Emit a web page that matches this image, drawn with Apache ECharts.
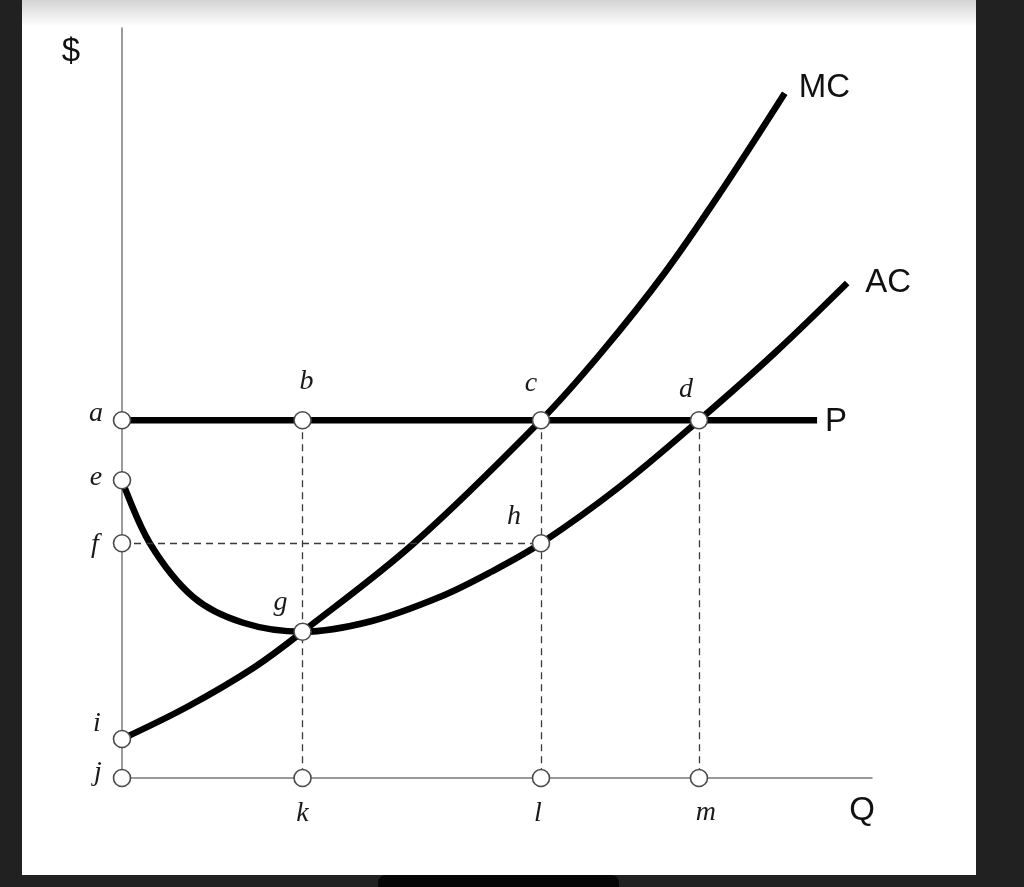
<!DOCTYPE html>
<html>
<head>
<meta charset="utf-8">
<title>MC AC P</title>
<script src="https://cdn.jsdelivr.net/npm/echarts@6/dist/echarts.min.js"></script>
<style>
  html, body { margin: 0; padding: 0; background: #212121; }
  #chart { width: 1024px; height: 887px; }
</style>
</head>
<body>
<div id="chart"></div>
<script>
// values, axes run 0..100 on both sides
const priceLevel = 47.7;      // a, the P line
const pEnd = 92.4;
const mcCurve = [[0, 5.2], [8.7, 9.5], [17.5, 14.7], [24, 19.5], [38.8, 31.3], [55.7, 47.7], [63.7, 56.7], [72.1, 67.3], [79.7, 78.3], [88.1, 91.3]];
const acCurve = [[0, 39.7], [3.7, 31.3], [9.5, 24.1], [16.1, 20.7], [24, 19.5], [33.1, 20.9], [42.4, 24.2], [49.1, 27.5], [55.7, 31.3], [66.1, 38.8], [76.7, 47.7], [86.8, 56.7], [96.4, 66]];
const pointNames = ['a', 'e', 'f', 'i', 'j', 'b', 'c', 'd', 'g', 'h', 'k', 'l', 'm'];
const pointX = [0, 0, 0, 0, 0, 24, 55.7, 76.7, 24, 55.7, 24, 55.7, 76.7];
const pointY = [47.7, 39.7, 31.3, 5.2, 0, 47.7, 47.7, 47.7, 19.5, 31.3, 0, 0, 0];
// dashed guides: [from, to] by point name
const guides = [['b', 'k'], ['c', 'l'], ['d', 'm'], ['f', 'h']];

// where each letter sits relative to its circle (px)
const labelOffset = {
  a: [-26, -7], e: [-26, -3], f: [-27, 1], i: [-25, -15], j: [-24, -5],
  b: [4, -39], c: [-10, -37], d: [-13, -31], g: [-22, -29], h: [-27, -27],
  k: [0, 36], l: [-3, 36], m: [7, 35]
};

const chart = echarts.init(document.getElementById('chart'));

const pt = name => {
  const i = pointNames.indexOf(name);
  return [pointX[i], pointY[i]];
};

const curveStyle = { color: '#000', width: 6.5 };
const sans = '"Liberation Sans", Arial, sans-serif';

const option = {
  animation: false,
  backgroundColor: '#212121',
  graphic: [
    {
      type: 'rect', z: -10, silent: true,
      shape: { x: 22, y: 0, width: 954, height: 875 },
      style: {
        fill: new echarts.graphic.LinearGradient(0, 0, 0, 1, [
          { offset: 0, color: '#d3d3d3' },
          { offset: 0.03, color: '#ffffff' },
          { offset: 1, color: '#ffffff' }
        ])
      }
    },
    {
      type: 'rect', z: -10, silent: true,
      shape: { x: 378, y: 875, width: 241, height: 14, r: [8, 8, 0, 0] },
      style: { fill: '#060606' }
    }
  ],
  grid: { left: 122, top: 28, width: 750, height: 750 },
  xAxis: {
    type: 'value', min: 0, max: 99.7,
    name: 'Q', nameLocation: 'end', nameGap: -10,
    nameTextStyle: { fontFamily: sans, fontSize: 33, color: '#111', align: 'center', verticalAlign: 'top', padding: [16, 0, 0, 0] },
    axisLine: { lineStyle: { color: '#7a7a7a', width: 1.5 } },
    axisTick: { show: false }, axisLabel: { show: false }, splitLine: { show: false }
  },
  yAxis: {
    type: 'value', min: 0, max: 100,
    name: '$', nameLocation: 'end', nameGap: -40,
    nameTextStyle: { fontFamily: sans, fontSize: 33, color: '#111', align: 'right', padding: [0, 42, 0, 0] },
    axisLine: { show: true, lineStyle: { color: '#7a7a7a', width: 1.5 } },
    axisTick: { show: false }, axisLabel: { show: false }, splitLine: { show: false }
  },
  series: [
    {
      name: 'P', type: 'line', symbol: 'none', z: 3,
      data: [[0, priceLevel], [pEnd, priceLevel]],
      lineStyle: curveStyle,
      endLabel: { show: true, formatter: '{a}', fontFamily: sans, fontSize: 33, color: '#111', distance: 0, offset: [8, 2] },
      markLine: {
        silent: true, symbol: 'none', label: { show: false },
        lineStyle: { type: [7, 5], color: '#3a3a3a', width: 1.3 },
        data: guides.map(([s, e]) => [{ coord: pt(s) }, { coord: pt(e) }])
      }
    },
    {
      name: 'MC', type: 'line', symbol: 'none', z: 4,
      smooth: 0.35,
      data: mcCurve, lineStyle: curveStyle,
      endLabel: { show: true, formatter: '{a}', fontFamily: sans, fontSize: 33, color: '#111', distance: 0, offset: [14, -5] }
    },
    {
      name: 'AC', type: 'line', symbol: 'none', z: 4,
      smooth: 0.35,
      data: acCurve, lineStyle: curveStyle,
      endLabel: { show: true, formatter: '{a}', fontFamily: sans, fontSize: 33, color: '#111', distance: 0, offset: [18, 0] }
    },
    {
      name: 'points', type: 'scatter', z: 10,
      symbol: 'circle', symbolSize: 17,
      itemStyle: { color: '#fff', borderColor: '#4a4a4a', borderWidth: 1.6, opacity: 1 },
      label: {
        show: true, position: 'inside', formatter: '{b}',
        fontFamily: '"Liberation Serif", "DejaVu Serif", serif',
        fontStyle: 'italic', fontSize: 28, color: '#1a1a1a'
      },
      data: pointNames.map((n, i) => ({
        name: n, value: [pointX[i], pointY[i]],
        label: { offset: labelOffset[n] }
      }))
    }
  ]
};

chart.setOption(option);
</script>
</body>
</html>
